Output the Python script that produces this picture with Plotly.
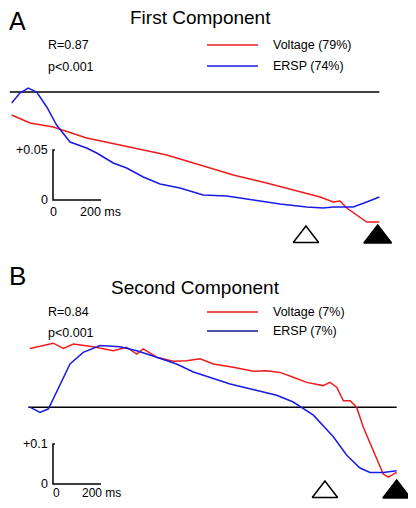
import plotly.graph_objects as go
from plotly.subplots import make_subplots

W, H = 416, 508
PAD = 8  # page body margin around the plot

# panel A (time in ms, amplitude)
a_red_t = [-172, -96, 1, 140, 279, 474, 613, 751, 890, 1029, 1113, 1168, 1196, 1224, 1265, 1307, 1360]
a_red_y = [0.085, 0.077, 0.073, 0.062, 0.055, 0.045, 0.035, 0.025, 0.017, 0.008, 0.003, -0.002, -0.001, -0.008, -0.015, -0.022, -0.022]
a_blue_t = [-172, -138, -103, -68, -26, 15, 71, 140, 182, 251, 307, 376, 446, 529, 626, 724, 835, 946, 1057, 1126, 1168, 1251, 1307, 1360]
a_blue_y = [0.097, 0.107, 0.112, 0.108, 0.093, 0.075, 0.058, 0.052, 0.047, 0.037, 0.032, 0.023, 0.016, 0.012, 0.005, 0.004, 0.0, -0.004, -0.007, -0.008, -0.007, -0.007, -0.002, 0.003]
a_base = 0.108

# panel B
b_red_t = [-96, -40, 1, 43, 85, 168, 251, 307, 349, 376, 432, 501, 557, 613, 668, 751, 835, 890, 946, 1001, 1057, 1126, 1154, 1182, 1210, 1238, 1265, 1293, 1335, 1376, 1397, 1432]
b_red_y = [0.339, 0.346, 0.352, 0.339, 0.350, 0.343, 0.333, 0.342, 0.325, 0.338, 0.317, 0.307, 0.308, 0.313, 0.300, 0.292, 0.282, 0.283, 0.279, 0.267, 0.254, 0.246, 0.254, 0.242, 0.208, 0.208, 0.192, 0.142, 0.083, 0.025, 0.017, 0.029]
b_blue_t = [-96, -54, -19, 15, 71, 126, 196, 279, 349, 432, 515, 585, 654, 738, 807, 863, 932, 1001, 1085, 1168, 1224, 1279, 1321, 1376, 1432]
b_blue_y = [0.192, 0.179, 0.188, 0.230, 0.300, 0.329, 0.346, 0.343, 0.333, 0.317, 0.300, 0.280, 0.267, 0.250, 0.240, 0.232, 0.222, 0.205, 0.172, 0.118, 0.072, 0.040, 0.029, 0.029, 0.033]
b_base = 0.192

RED, BLUE = "#ee1c1c", "#1a1ae6"
FONT = "Liberation Sans, Arial, sans-serif"

fig = make_subplots(rows=2, cols=1, vertical_spacing=0)

def add_panel(row, rt, ry, bt, by, base, t0, t1, scale, tri_y, tri_open, tri_fill):
    fig.add_trace(go.Scatter(x=[t0, t1], y=[base, base], mode="lines",
                             line=dict(color="black", width=1.5)), row=row, col=1)
    fig.add_trace(go.Scatter(x=rt, y=ry, mode="lines", line=dict(color=RED, width=1.5)), row=row, col=1)
    fig.add_trace(go.Scatter(x=bt, y=by, mode="lines", line=dict(color=BLUE, width=1.5)), row=row, col=1)
    # scale bar
    fig.add_trace(go.Scatter(x=[8, 0, 0, 200], y=[scale, scale, 0, 0], mode="lines",
                             line=dict(color="black", width=1.5)), row=row, col=1)
    fig.add_trace(go.Scatter(x=[tri_open, tri_fill], y=[tri_y, tri_y], mode="markers",
                             marker=dict(symbol="triangle-up", size=[22, 24],
                                         color=["white", "black"], opacity=1,
                                         line=dict(color="black", width=1.5))), row=row, col=1)

add_panel(1, a_red_t, a_red_y, a_blue_t, a_blue_y, a_base, -180, 1360, 0.05, -0.037, 1054, 1353)
add_panel(2, b_red_t, b_red_y, b_blue_t, b_blue_y, b_base, -103, 1432, 0.1, -0.02, 1133, 1432)

xr = [(PAD - 53) / 0.24, (W - PAD - 53) / 0.24]
for r in (1, 2):
    fig.update_xaxes(range=xr, visible=False, row=r, col=1)
fig.update_yaxes(range=[(200 - 254) / 1000, (200 - PAD) / 1000], visible=False, row=1, col=1)
fig.update_yaxes(range=[(484 - (H - PAD)) / 400, (484 - 254) / 400], visible=False, row=2, col=1)

def px_x(px):
    return (px - PAD) / (W - 2 * PAD)

def px_y(py):
    return 1 - (py - PAD) / (H - 2 * PAD)

def txt(px, py, s, size, anchor="left"):
    fig.add_annotation(x=px_x(px), y=px_y(py), xref="paper", yref="paper", text=s,
                       showarrow=False, xanchor=anchor, yanchor="middle",
                       font=dict(family=FONT, size=size, color="black"))

def seg(px0, px1, py, color):
    fig.add_shape(type="line", xref="paper", yref="paper", x0=px_x(px0), x1=px_x(px1),
                  y0=px_y(py), y1=px_y(py), line=dict(color=color, width=1.5))

# panel A texts
txt(7, 21, "A", 25)
txt(200, 17, "First Component", 19, "center")
txt(46, 45, "R=0.87", 12.5)
txt(46, 67, "p<0.001", 12.5)
seg(207, 258, 45, RED); seg(207, 258, 66, BLUE)
txt(271, 45, "Voltage (79%)", 12.5)
txt(271, 66, "ERSP (74%)", 12.5)
txt(50, 150, "+0.05", 12.5, "right")
txt(50, 200, "0", 12.5, "right")
txt(53, 212, "0", 12.5, "center")
txt(78, 212, "200 ms", 12.5, "left")

# panel B texts
txt(7, 276, "B", 26)
txt(195, 287, "Second Component", 19, "center")
txt(46, 312, "R=0.84", 12.5)
txt(46, 333, "p<0.001", 12.5)
seg(207, 258, 312, RED); seg(207, 258, 331, "#1a1a8c")
txt(271, 312, "Voltage (7%)", 12.5)
txt(271, 331, "ERSP (7%)", 12.5)
txt(50, 444, "+0.1", 12.5, "right")
txt(50, 484, "0", 12.5, "right")
txt(56, 493, "0", 12, "center")
txt(80, 493, "200 ms", 12, "left")

fig.update_layout(width=W - 2 * PAD, height=H - 2 * PAD, margin=dict(l=0, r=0, t=0, b=0),
                  showlegend=False, plot_bgcolor="white", paper_bgcolor="white")

fig.write_html("out.html")
